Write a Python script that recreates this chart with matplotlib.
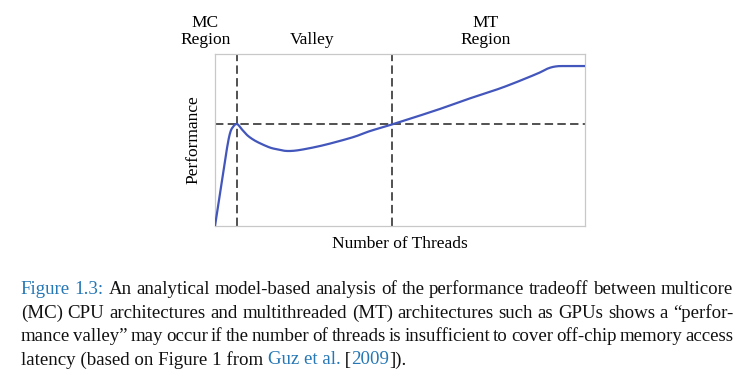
import numpy as np
import matplotlib
matplotlib.use("Agg")
import matplotlib.pyplot as plt

W, H = 743, 382

# curve (threads vs performance, arbitrary units 0-100)
threads = [0, 1.6, 3.16, 4.05, 4.86, 5.95, 7.3, 8.65, 10.27, 12.16, 14.86, 16.76,
           18.92, 21.08, 23.78, 28.38, 32.97, 37.84, 41.89, 47.92, 59.9, 68.9,
           77.8, 86.9, 90.0, 92.2, 94.6, 100]
perf = [0, 22.5, 44.2, 53.9, 57.6, 59.3, 56.1, 52.9, 50.3, 48.1, 45.6, 44.6,
        43.7, 43.7, 44.5, 46.5, 49.0, 52.0, 55.2, 59.1, 67.4, 74.2,
        80.6, 88.4, 91.6, 92.8, 93.0, 93.0]

mc_edge = 6.0      # end of MC region
mt_edge = 47.9     # start of MT region
crossover = 59.1   # performance level of the MC peak

region_labels = ["MC\nRegion", "Valley", "MT\nRegion"]
region_x = [205.5, 312.5, 485.8]   # label centres in pixels

caption = [
    "{Figure 1.3:} An analytical model-based analysis of the performance tradeoff between multicore",
    "(MC) CPU architectures and multithreaded (MT) architectures such as GPUs shows a \u201cperfor-",
    "mance valley\u201d may occur if the number of threads is insufficient to cover off-chip memory access",
    "latency (based on Figure 1 from {Guz et al.} [{2009}]).",
]

SERIF = ["Liberation Serif", "DejaVu Serif"]
BLUE = "#2577b5"
LINE = "#4356bb"
DASH = (0, (5.5, 2.8))

plt.rcParams["font.family"] = SERIF


def smooth(xs, ys, n=12):
    # catmull-rom through the read points so the line has no kinks
    p = np.column_stack([xs, ys]).astype(float)
    p = np.vstack([p[0], p, p[-1]])
    out = []
    t = np.linspace(0, 1, n, endpoint=False)[:, None]
    for i in range(1, len(p) - 2):
        p0, p1, p2, p3 = p[i - 1], p[i], p[i + 1], p[i + 2]
        seg = 0.5 * (2 * p1 + (-p0 + p2) * t + (2 * p0 - 5 * p1 + 4 * p2 - p3) * t ** 2
                     + (-p0 + 3 * p1 - 3 * p2 + p3) * t ** 3)
        out.append(seg)
    out.append(p[-2][None, :])
    out = np.vstack(out)
    return out[:, 0], out[:, 1]


fig = plt.figure(figsize=(W / 100, H / 100), dpi=100)
fig.patch.set_facecolor("white")


def fx(px):
    return px / W


def fy(py):
    return 1 - py / H


# axes box: x 215..585, y 54..226 px
ax = fig.add_axes([fx(215), fy(226), (585 - 215) / W, (226 - 54) / H])
sx, sy = smooth(threads, perf)
ax.plot(sx, sy, color=LINE, lw=1.6, solid_joinstyle="round", zorder=3)
ax.axvline(mc_edge, color="#222222", lw=1.1, ls=DASH, zorder=2)
ax.axvline(mt_edge, color="#222222", lw=1.1, ls=DASH, zorder=2)
ax.axhline(crossover, color="#222222", lw=1.1, ls=DASH, zorder=2)
ax.set_xlim(0, 100)
ax.set_ylim(0, 100)
ax.set_xticks([])
ax.set_yticks([])
for sp in ax.spines.values():
    sp.set_color("#c8c8c8")
    sp.set_linewidth(0.9)

# region labels above the plot
for lab, x in zip(region_labels, region_x):
    fig.text(fx(x), fy(44), lab, ha="center", va="baseline", fontsize=12.5,
             linespacing=1.05, multialignment="center")

fig.text(fx(400), fy(248), "Number of Threads", ha="center", va="baseline", fontsize=12.5)
fig.text(fx(193), fy(140), "Performance", ha="center", va="center", rotation=90, fontsize=12.5)


# caption, justified like the book
def parse(line):
    words, blue = [], False
    for w in line.split(" "):
        pieces, buf = [], ""
        for ch in w:
            if ch in "{}":
                if buf:
                    pieces.append((buf, blue))
                buf = ""
                blue = ch == "{"
            else:
                buf += ch
        if buf:
            pieces.append((buf, blue))
        words.append(pieces)
    return words


def segments(line):
    segs, blue, buf = [], False, ""
    for ch in line:
        if ch in "{}":
            if buf:
                segs.append((buf, blue))
            buf = ""
            blue = ch == "{"
        else:
            buf += ch
    if buf:
        segs.append((buf, blue))
    return segs


fig.canvas.draw()
r = fig.canvas.get_renderer()
cap_fs = 13.6
left, right = 20.7, 733.3
baselines = [294, 317.5, 341, 364.5]

probe = fig.text(0, 0, "x", fontsize=cap_fs)


def text_w(s):
    # width of a string, trailing spaces included
    probe.set_text(s + "x")
    a = probe.get_window_extent(r).width
    probe.set_text("x")
    return a - probe.get_window_extent(r).width


for i, line in enumerate(caption):
    if i == len(caption) - 1:
        # last line is set ragged, so just run the pieces on
        done = ""
        for txt, blue in segments(line):
            fig.text(fx(left + text_w(done)), fy(baselines[i]), txt, fontsize=cap_fs,
                     va="baseline", color=BLUE if blue else "#111111")
            done += txt
        continue
    words = parse(line)
    objs = []
    for pieces in words:
        wo = []
        for txt, blue in pieces:
            t = fig.text(0, fy(baselines[i]), txt, fontsize=cap_fs, va="baseline",
                         color=BLUE if blue else "#111111")
            wo.append((t, text_w(txt)))
        objs.append(wo)
    widths = [sum(w for _, w in wo) for wo in objs]
    gap = (right - left - sum(widths)) / (len(objs) - 1)
    x = left
    for wo, ww in zip(objs, widths):
        xx = x
        for t, w in wo:
            t.set_x(fx(xx))
            xx += w
        x += ww + gap

probe.remove()
fig.savefig("out.png", dpi=100, facecolor="white")
